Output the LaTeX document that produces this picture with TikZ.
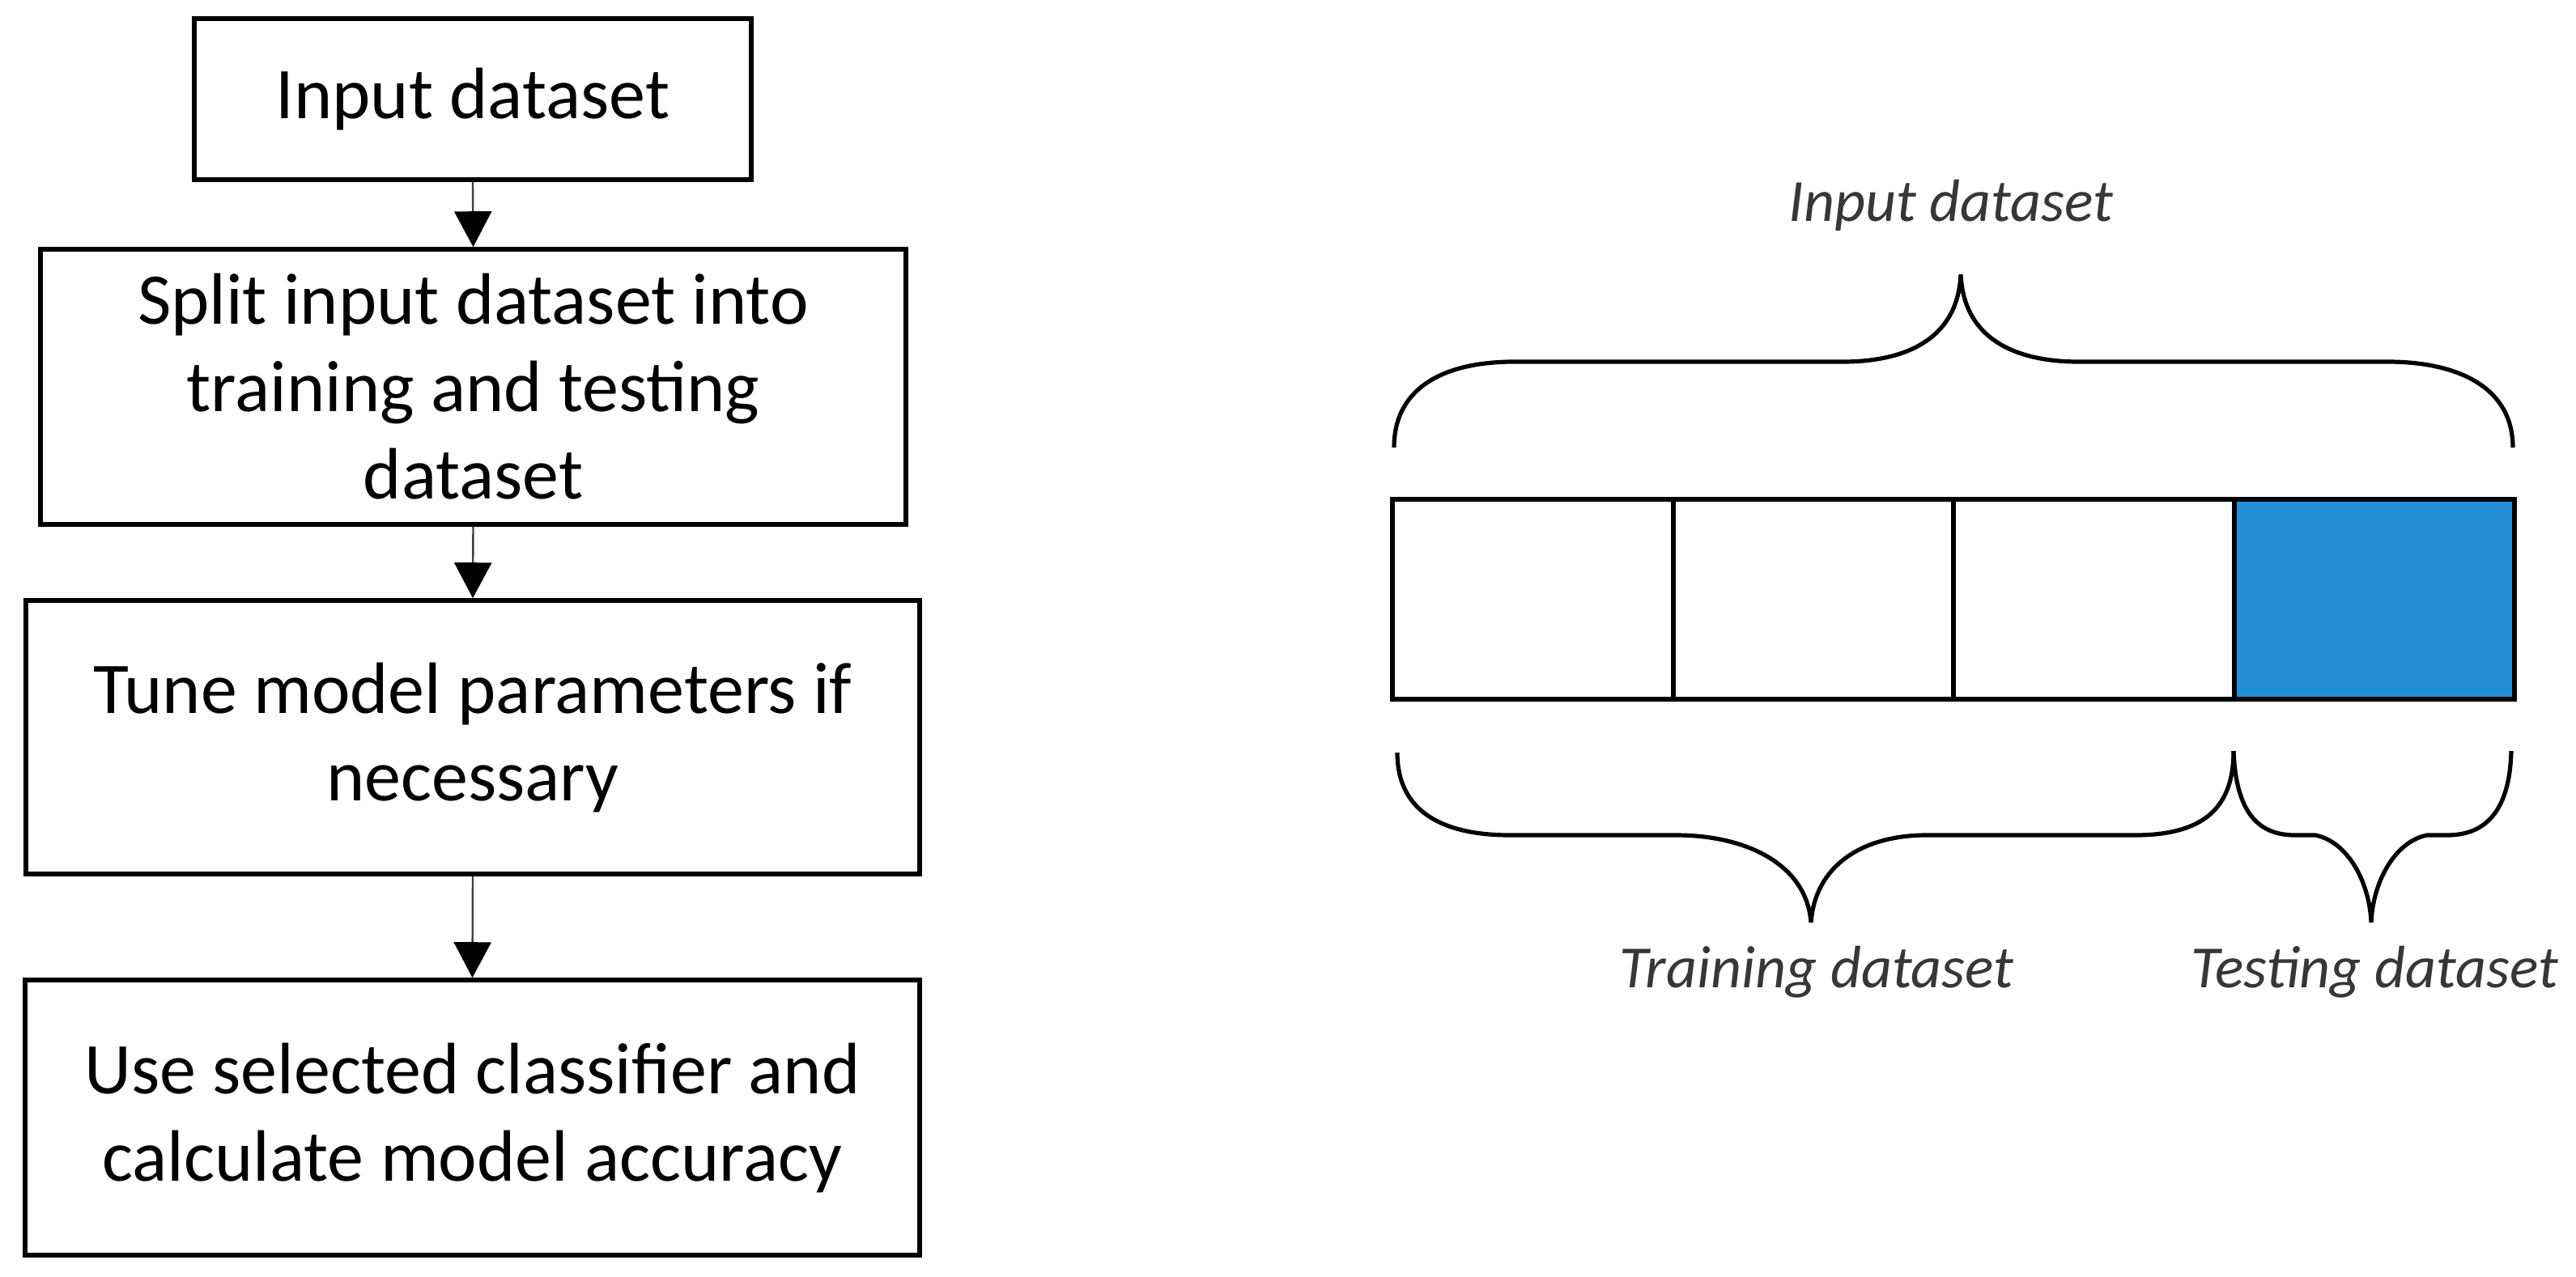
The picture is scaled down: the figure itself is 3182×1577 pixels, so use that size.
\documentclass[tikz,border=0pt]{standalone}
\usepackage{fontspec}
\setmainfont{Carlito}
\usetikzlibrary{arrows.meta}
\definecolor{testblue}{RGB}{34,142,214}
\definecolor{labelgrey}{RGB}{55,55,55}
\tikzset{
  flowbox/.style={draw=black, line width=1.4pt, fill=white, align=center,
    inner sep=0pt, font=\fontsize{22.5}{27}\selectfont},
  flowarrow/.style={draw=black!75, line width=0.6pt,
    -{Triangle[length=11pt,width=11.5pt,black]}},
  cell/.style={draw=black, line width=1.5pt, minimum width=86.625pt,
    minimum height=61.75pt, inner sep=0pt, outer sep=0pt},
  bracepath/.style={draw=black, line width=1.3pt},
  setlabel/.style={font=\fontsize{18.5}{22}\selectfont\itshape, text=labelgrey,
    anchor=base, inner sep=0pt}
}
\begin{document}
\begin{tikzpicture}[x=0.25pt,y=-0.25pt]
\useasboundingbox[fill=white] (0,0) rectangle (3182,1577);

% flowchart
\node[flowbox, minimum width=172pt, minimum height=49.75pt] (b1) at (584,122.5) {Input dataset};
\node[flowbox, minimum width=267.25pt, minimum height=85pt] (b2) at (584.5,478)
  {Split input dataset into\\training and testing\\dataset};
\node[flowbox, minimum width=276pt, minimum height=84.5pt] (b3) at (584,911)
  {Tune model parameters if\\necessary};
\node[flowbox, minimum width=276.25pt, minimum height=85pt] (b4) at (583.5,1381)
  {Use selected classifier and\\calculate model accuracy};

\draw[flowarrow] (b1.south) -- (b2.north);
\draw[flowarrow] (b2.south) -- (b3.north);
\draw[flowarrow] (b3.south) -- (b4.north);

% dataset bar
\node[cell, fill=white] (c1) at (1893.25,740.5) {};
\node[cell, fill=white] (c2) at (2239.75,740.5) {};
\node[cell, fill=white] (c3) at (2586.25,740.5) {};
\node[cell, fill=testblue] (c4) at (2932.75,740.5) {};

% top brace
\draw[bracepath] (1722,553) .. controls (1722,475) and (1790,447) .. (1870,447)
  -- (2276,447) .. controls (2345,447) and (2418,425) .. (2422,339)
  .. controls (2426,425) and (2499,447) .. (2568,447)
  -- (2950,447) .. controls (3030,447) and (3104,475) .. (3104,553);

% bottom-left brace (training)
\draw[bracepath] (1726,930) .. controls (1726,1008) and (1790,1032) .. (1865,1032)
  -- (2070,1032) .. controls (2160,1032) and (2232,1070) .. (2237,1140)
  .. controls (2242,1070) and (2300,1032) .. (2380,1032)
  -- (2637,1032) .. controls (2720,1032) and (2759,1000) .. (2759,928);

% bottom-right brace (testing)
\draw[bracepath] (2759,928) .. controls (2762,1005) and (2790,1032) .. (2835,1032)
  -- (2860,1032) .. controls (2900,1040) and (2927,1090) .. (2929,1140)
  .. controls (2931,1090) and (2958,1040) .. (2998,1032)
  -- (3023,1032) .. controls (3068,1032) and (3100,1005) .. (3102,928);

% labels
\node[setlabel] (linput) at (2410,273) {Input dataset};
\node[setlabel] (ltrain) at (2244,1220) {Training dataset};
\node[setlabel] (ltest) at (2933,1220) {Testing dataset};
\end{tikzpicture}
\end{document}
